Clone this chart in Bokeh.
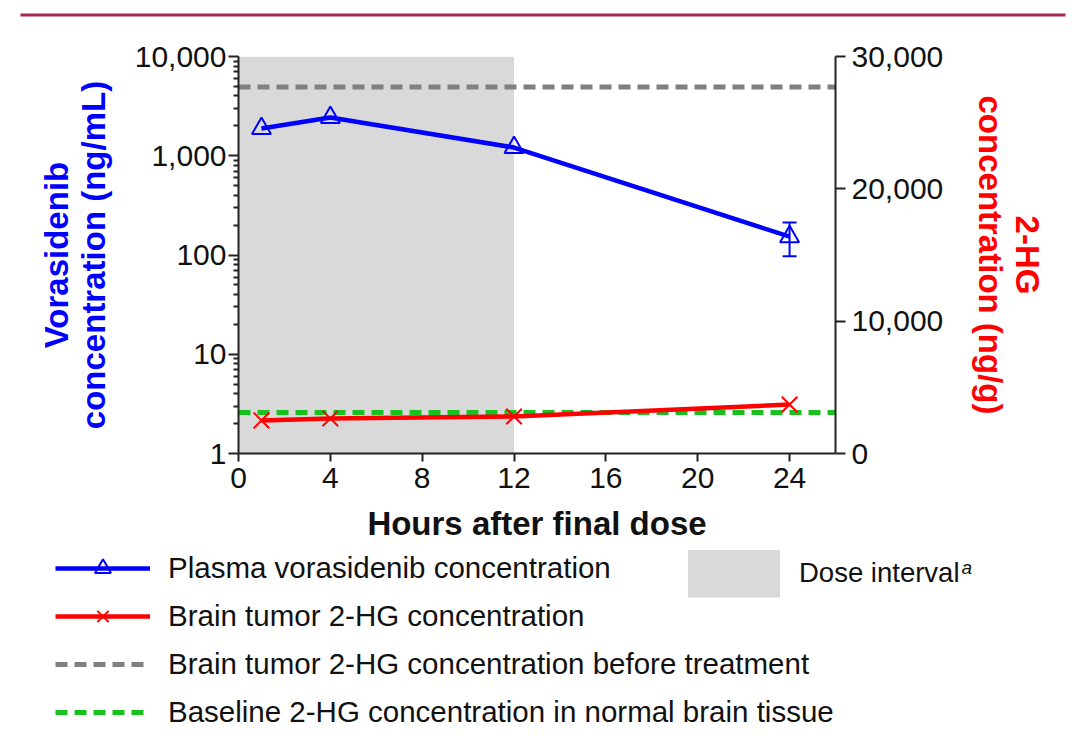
from bokeh.plotting import figure
from bokeh.layouts import column, row
from bokeh.models import (Range1d, LinearAxis, LinearScale, FixedTicker, NumeralTickFormatter,
                          Legend, LegendItem, Label, BoxAnnotation, Whisker, TeeHead,
                          ColumnDataSource)
from bokeh.embed import file_html
from bokeh.resources import INLINE

# ---- data ----
hours = [1, 4, 12, 24]
plasma_conc = [1880, 2430, 1210, 153]          # ng/mL, mean
err_hours = [24]
plasma_upper = [212]                            # ng/mL, error bar top
plasma_lower = [97]                             # ng/mL, error bar bottom
tumor_2hg = [2500, 2650, 2800, 3700]            # ng/g
pretreatment_2hg = 27700                        # ng/g, brain tumor before treatment
normal_brain_2hg = 3100                         # ng/g, normal brain tissue
dose_interval = (0, 12)                         # h

x_ticks = [0, 4, 8, 12, 16, 20, 24]
left_ticks = [1, 10, 100, 1000, 10000]
right_ticks = [0, 10000, 20000, 30000]
X_MIN, X_MAX = 0, 26
Y_MIN, Y_MAX = 1, 10000
HG_MIN, HG_MAX = 0, 30000

FONT = "Liberation Sans"
BLUE = "#0000ff"
RED = "#ff0000"
GREEN = "#18c21e"
GREY = "#808080"
SHADE = "#d9d9d9"
AXIS = "#222222"
TEXT = "#111111"

RED_X = dict(marker="x", size=22, line_color=RED, line_width=2)
BLUE_TRI = dict(marker="triangle", size=19, line_color=BLUE, line_width=2, fill_color=None)
BLUE_LINE = dict(line_color=BLUE, line_width=4.5)
RED_LINE = dict(line_color=RED, line_width=4.5)
GREY_DASH = dict(line_color=GREY, line_width=5, line_dash="12 7")
GREEN_DASH = dict(line_color=GREEN, line_width=5, line_dash="12 7")


def bare(fig):
    fig.outline_line_color = None
    fig.xgrid.visible = False
    fig.ygrid.visible = False
    fig.border_fill_color = "white"
    fig.background_fill_color = "white"


# ---- header rule ----
top = figure(width=1080, height=30, output_backend="svg", toolbar_location=None,
             x_axis_type=None, y_axis_type=None, x_range=Range1d(0, 1), y_range=Range1d(0, 1),
             min_border=0)
bare(top)
top.add_layout(BoxAnnotation(left=20, right=1065, top=17, bottom=14,
                             left_units="screen", right_units="screen",
                             top_units="screen", bottom_units="screen",
                             fill_color="#a8284f", fill_alpha=1, line_color=None))

# ---- main chart ----
p = figure(width=1080, height=520, output_backend="svg", toolbar_location=None,
           y_axis_type="log", x_range=Range1d(X_MIN, X_MAX), y_range=Range1d(Y_MIN, Y_MAX),
           min_border_left=238, min_border_right=245, min_border_top=26, min_border_bottom=97)
p.extra_y_ranges = {"hg": Range1d(HG_MIN, HG_MAX)}
p.extra_y_scales = {"hg": LinearScale()}
bare(p)

# dose interval shading
p.quad(left=[dose_interval[0]], right=[dose_interval[1]], bottom=[Y_MIN], top=[Y_MAX],
       fill_color=SHADE, line_color=None)

# reference levels on the 2-HG axis
p.line([X_MIN, X_MAX], [pretreatment_2hg] * 2, y_range_name="hg", **GREY_DASH)
p.line([X_MIN, X_MAX], [normal_brain_2hg] * 2, y_range_name="hg", **GREEN_DASH)

# plasma vorasidenib
err = ColumnDataSource(dict(base=err_hours, upper=plasma_upper, lower=plasma_lower))
p.add_layout(Whisker(source=err, base="base", upper="upper", lower="lower",
                     line_color=BLUE, line_width=2,
                     upper_head=TeeHead(size=14, line_color=BLUE, line_width=2),
                     lower_head=TeeHead(size=14, line_color=BLUE, line_width=2)))
p.line(hours, plasma_conc, **BLUE_LINE)
p.scatter(hours, plasma_conc, **BLUE_TRI)

# brain tumour 2-HG
p.line(hours, tumor_2hg, y_range_name="hg", **RED_LINE)
p.scatter(hours, tumor_2hg, y_range_name="hg", **RED_X)

# axes
xa = p.xaxis[0]
xa.ticker = FixedTicker(ticks=x_ticks)
xa.axis_label = "Hours after final dose"
xa.axis_label_text_color = TEXT

ya = p.yaxis[0]
minor = [m * d for d in left_ticks[:-1] for m in range(2, 10)]
ya.ticker = FixedTicker(ticks=left_ticks, minor_ticks=minor)
ya.formatter = NumeralTickFormatter(format="0,0")
ya.axis_label = "Vorasidenib\nconcentration (ng/mL)"
ya.axis_label_text_color = BLUE

ra = LinearAxis(y_range_name="hg", ticker=FixedTicker(ticks=right_ticks),
                formatter=NumeralTickFormatter(format="0,0"))
ra.axis_label = "2-HG\nconcentration (ng/g)"
ra.axis_label_text_color = RED
p.add_layout(ra, "right")

for ax in (xa, ya, ra):
    ax.axis_line_color = AXIS
    ax.axis_line_width = 2
    ax.major_tick_line_color = AXIS
    ax.major_tick_line_width = 2
    ax.major_tick_in = 0
    ax.major_tick_out = 10
    ax.minor_tick_in = 0
    ax.minor_tick_out = 0
    ax.major_label_text_font = FONT
    ax.major_label_text_font_size = "30px"
    ax.major_label_text_color = TEXT
    ax.axis_label_text_font = FONT
    ax.axis_label_text_font_size = "33px"
    ax.axis_label_text_font_style = "bold"
    ax.axis_label_text_line_height = 1.0
ya.minor_tick_out = 5
ya.minor_tick_line_color = AXIS
ya.minor_tick_line_width = 2
xa.major_tick_out = 8
xa.major_label_standoff = 6
xa.axis_label_standoff = 14
ya.major_label_standoff = 2
ya.axis_label_standoff = 20
ra.major_label_standoff = 6
ra.axis_label_standoff = 26

# ---- legend panel ----
leg = figure(width=1080, height=195, output_backend="svg", toolbar_location=None,
             x_axis_type=None, y_axis_type=None, x_range=Range1d(0, 1), y_range=Range1d(0, 1),
             min_border=0)
bare(leg)
# key glyphs sit outside the visible range; only their legend swatches show
OFF = [-5, -4]
l_blue = leg.line(OFF, OFF, **BLUE_LINE)
m_blue = leg.scatter(OFF, OFF, **BLUE_TRI)
l_red = leg.line(OFF, OFF, **RED_LINE)
m_red = leg.scatter(OFF, OFF, **RED_X)
l_grey = leg.line(OFF, OFF, **GREY_DASH)
l_green = leg.line(OFF, OFF, **GREEN_DASH)
q_dose = leg.quad(left=[-5], right=[-4], bottom=[-5], top=[-4], fill_color=SHADE, line_color=None)

leg_main = Legend(items=[
    LegendItem(label="Plasma vorasidenib concentration", renderers=[l_blue, m_blue]),
    LegendItem(label="Brain tumor 2-HG concentration", renderers=[l_red, m_red]),
    LegendItem(label="Brain tumor 2-HG concentration before treatment", renderers=[l_grey]),
    LegendItem(label="Baseline 2-HG concentration in normal brain tissue", renderers=[l_green]),
], location=(55, 13), orientation="vertical")
leg_dose = Legend(items=[LegendItem(label="Dose interval", renderers=[q_dose])],
                  location=(676, 142))
for lg in (leg_main, leg_dose):
    lg.label_text_font = FONT
    lg.label_text_color = TEXT
    lg.padding = 0
    lg.margin = 0
    lg.border_line_color = None
    lg.background_fill_alpha = 0
leg_main.label_text_font_size = "29.5px"
leg_main.glyph_width = 95
leg_main.glyph_height = 40
leg_main.label_height = 32
leg_main.spacing = 8
leg_main.label_standoff = 18
leg_dose.label_text_font_size = "27.5px"
leg_dose.glyph_width = 115
leg_dose.glyph_height = 61
leg_dose.label_height = 61
leg_dose.label_standoff = 8
leg.add_layout(leg_main, "center")
leg.add_layout(leg_dose, "center")
leg.add_layout(Label(x=961, y=178, x_units="screen", y_units="screen", text="a",
                     text_font=FONT, text_font_size="19px", text_font_style="italic",
                     text_color=TEXT, text_baseline="middle"))

page = column(row(top), row(p), row(leg), spacing=0)
open("out.html", "w").write(file_html(page, INLINE))
